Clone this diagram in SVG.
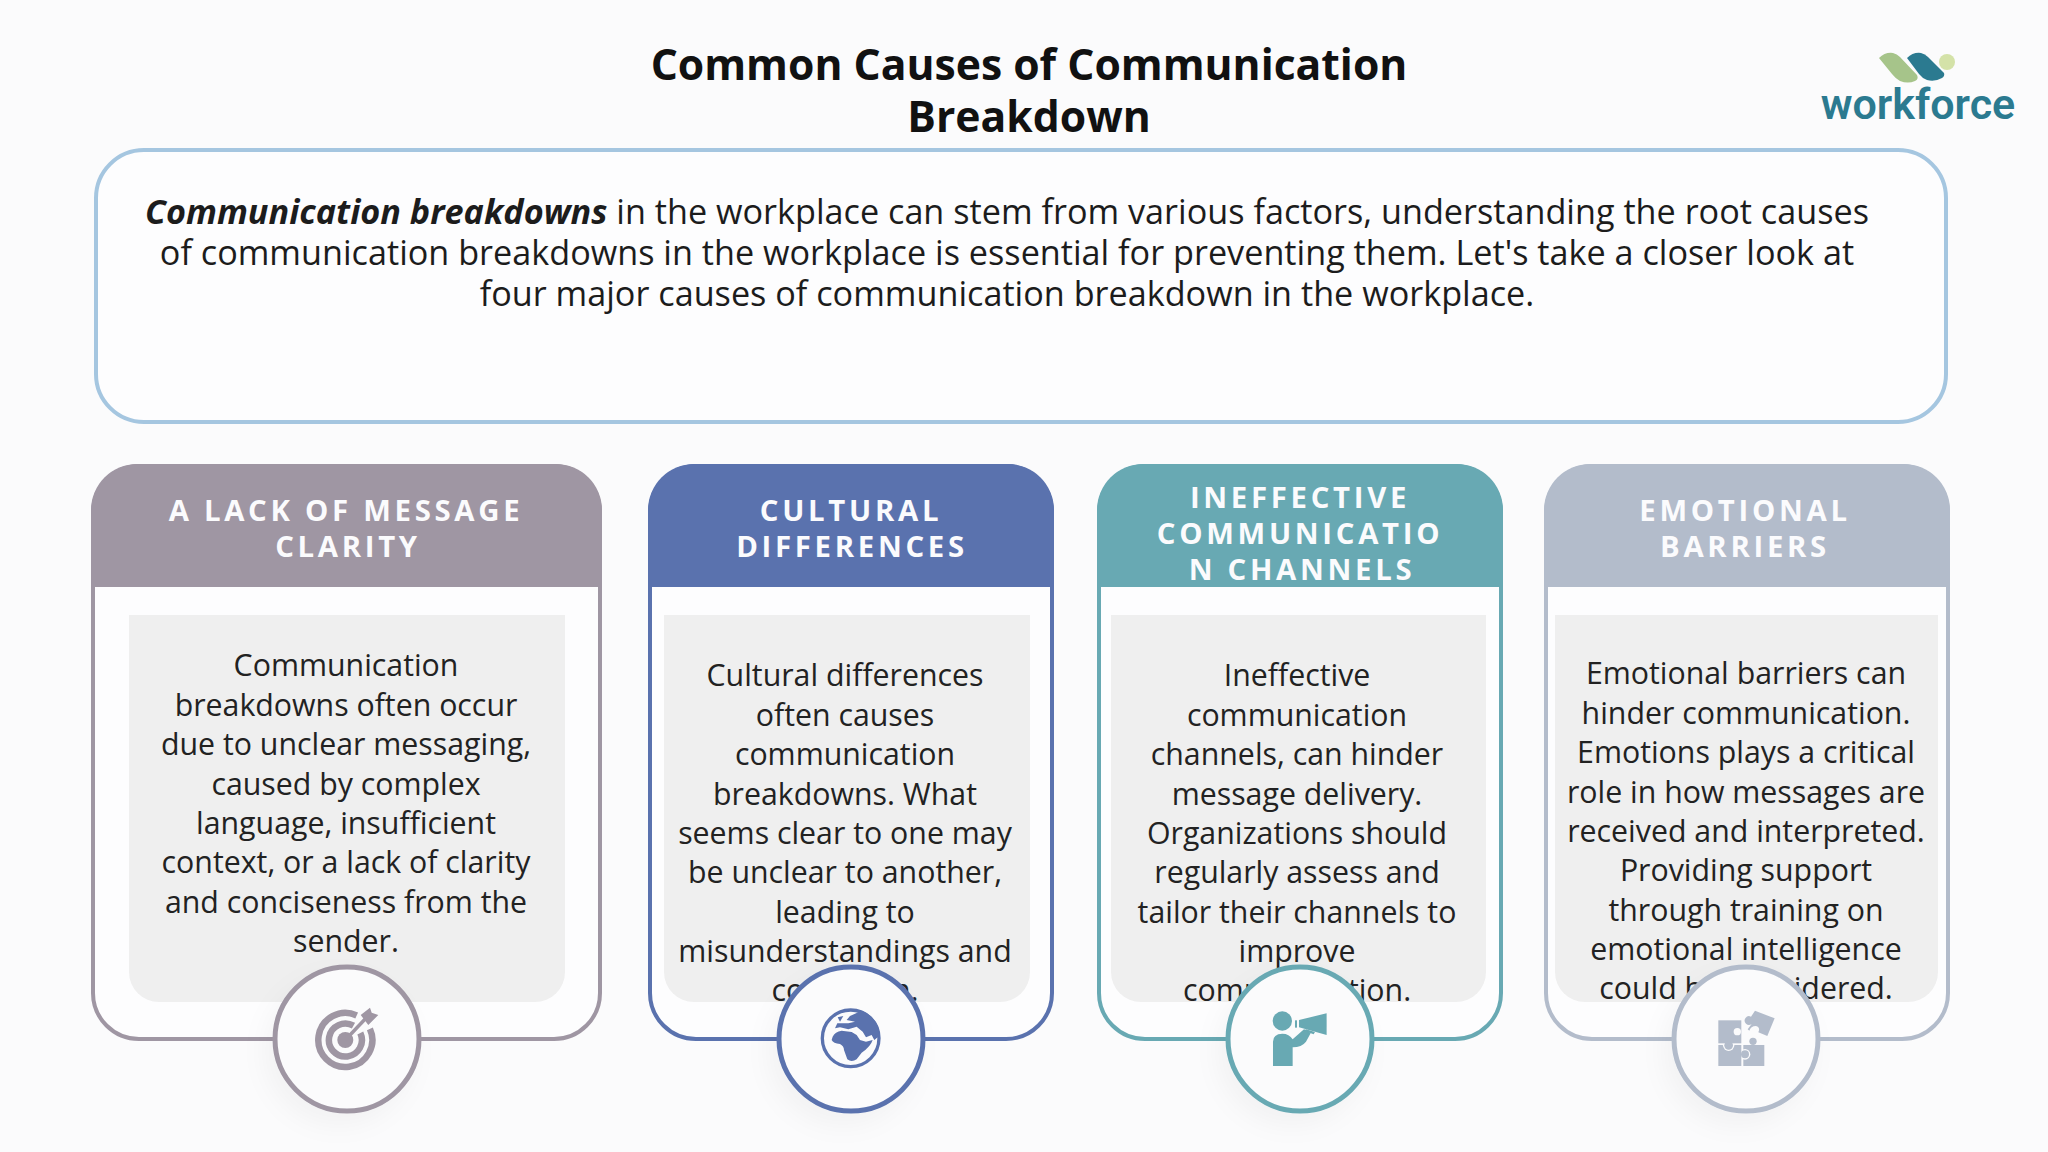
<svg xmlns="http://www.w3.org/2000/svg" width="2048" height="1152" viewBox="0 0 2048 1152">
<defs>
<filter id="sh" x="-30%" y="-30%" width="160%" height="170%"><feDropShadow dx="-8" dy="12" stdDeviation="12" flood-color="#000" flood-opacity="0.035"/></filter>
</defs>
<style>
text{font-family:"Open Sans","Noto Sans","DejaVu Sans",sans-serif;text-anchor:middle}
.title{font-size:42.67px;font-weight:700;fill:#111}
.intro{font-size:34.2px;fill:#1c1c1c}
.hd{font-size:29.33px;font-weight:700;fill:#fbfbfd;letter-spacing:3.7px}
.body{font-size:30.3px;fill:#222}
.panel{fill:#efefef}
.card{fill:#fdfdfe;stroke-width:4}
.disc{fill:#fbfbfc;stroke-width:5;filter:url(#sh)}
</style>
<rect width="2048" height="1152" fill="#fbfbfc"/>
<g id="title"><text class="title" x="1029" y="80">Common Causes of Communication</text><text class="title" x="1029" y="132">Breakdown</text></g>
<g id="logo">
<path d="M1879 58Q1885 52 1893 53Q1897 54 1900 57L1917 75Q1919 79 1915 81Q1908 84 1900 81Q1895 78 1892 74Z" fill="#a6c48a"/>
<path d="M1907 58Q1913 52 1921 53Q1925 54 1928 57L1944 73Q1945 76 1942 78Q1935 82 1927 80Q1922 78 1919 74Z" fill="#2b7a90"/>
<circle cx="1947" cy="62" r="8" fill="#d4e2a8"/>
<text x="1918" y="119" style="font-family:Roboto,sans-serif;font-size:43px;font-weight:600;fill:#2b7a90">workforce</text>
</g>
<g id="intro">
<rect x="96" y="150" width="1850" height="272" rx="48" fill="#fdfdfe" stroke="#a5c6e0" stroke-width="4"/>
<text class="intro" x="1007" y="224"><tspan font-weight="700" font-style="italic">Communication breakdowns</tspan> in the workplace can stem from various factors, understanding the root causes</text>
<text class="intro" x="1007" y="265">of communication breakdowns in the workplace is essential for preventing them. Let's take a closer look at</text>
<text class="intro" x="1007" y="306">four major causes of communication breakdown in the workplace.</text>
</g>

<g id="card-1">
<rect class="card" x="93" y="466" width="507" height="573" rx="46" stroke="#9f96a3"/>
<path d="M91 587V510a46 46 0 0 1 46-46H556a46 46 0 0 1 46 46V587Z" fill="#9f96a3"/>
<text class="hd" x="346" y="521">A LACK OF MESSAGE</text><text class="hd" x="348" y="557">CLARITY</text>
<path class="panel" d="M129 615H565V972a30 30 0 0 1-30 30H159a30 30 0 0 1-30-30Z"/>
<text class="body" x="346" y="676">Communication</text><text class="body" x="346" y="716">breakdowns often occur</text><text class="body" x="346" y="755">due to unclear messaging,</text><text class="body" x="346" y="795">caused by complex</text><text class="body" x="346" y="834">language, insufficient</text><text class="body" x="346" y="873">context, or a lack of clarity</text><text class="body" x="346" y="913">and conciseness from the</text><text class="body" x="346" y="952">sender.</text>
<circle class="disc" cx="347" cy="1039" r="72" stroke="#9f96a3"/>
<path d="M356.700 1015.500A27 27 0 1 0 369.900 1028.800M353.500 1025.700A16.500 16.500 0 1 0 360.300 1033" fill="none" stroke="#9f96a3" stroke-width="6.500"/>
<circle cx="345.300" cy="1040" r="8" fill="#9f96a3"/>
<path d="M345.300 1040L367 1017" stroke="#9f96a3" stroke-width="3.500"/>
<path d="M360.700 1015L370 1007.700L371.700 1012.700L378.300 1015L368.300 1025Z" fill="#9f96a3"/>
</g>

<g id="card-2">
<rect class="card" x="650" y="466" width="402" height="573" rx="46" stroke="#5a72ae"/>
<path d="M648 587V510a46 46 0 0 1 46-46H1008a46 46 0 0 1 46 46V587Z" fill="#5a72ae"/>
<text class="hd" x="851" y="521">CULTURAL</text><text class="hd" x="852" y="557">DIFFERENCES</text>
<path class="panel" d="M664 615H1030V972a30 30 0 0 1-30 30H694a30 30 0 0 1-30-30Z"/>
<text class="body" x="845" y="686">Cultural differences</text><text class="body" x="845" y="726">often causes</text><text class="body" x="845" y="765">communication</text><text class="body" x="845" y="805">breakdowns. What</text><text class="body" x="845" y="844">seems clear to one may</text><text class="body" x="845" y="883">be unclear to another,</text><text class="body" x="845" y="923">leading to</text><text class="body" x="845" y="962">misunderstandings and</text><text class="body" x="845" y="1001">confusion.</text>
<circle class="disc" cx="851" cy="1039" r="72" stroke="#5a72ae"/>
<g transform="translate(740 940) scale(.3333)" fill="#5a72ae">
<circle cx="332" cy="295" r="85" fill="none" stroke="#5a72ae" stroke-width="10"/>
<path d="M278 290Q285 275 305 272L335 276L350 285L360 300L378 305L398 300Q392 320 365 338L350 358Q335 368 322 358L312 330Q312 318 300 312Q280 310 275 300Z"/>
<path d="M330 228L365 212Q395 222 412 255Q420 275 415 290L403 300L395 285L378 292L368 275L350 260L325 268L300 262L285 265L292 250L325 250L345 245L320 240Z"/>
<path d="M293 232L310 228L300 245Z"/>
</g>
</g>

<g id="card-3">
<rect class="card" x="1099" y="466" width="402" height="573" rx="46" stroke="#68a9b3"/>
<path d="M1097 587V510a46 46 0 0 1 46-46H1457a46 46 0 0 1 46 46V587Z" fill="#68a9b3"/>
<text class="hd" x="1300" y="508">INEFFECTIVE</text><text class="hd" x="1300" y="544">COMMUNICATIO</text><text class="hd" x="1302" y="580">N CHANNELS</text>
<path class="panel" d="M1111 615H1486V972a30 30 0 0 1-30 30H1141a30 30 0 0 1-30-30Z"/>
<text class="body" x="1297" y="686">Ineffective</text><text class="body" x="1297" y="726">communication</text><text class="body" x="1297" y="765">channels, can hinder</text><text class="body" x="1297" y="805">message delivery.</text><text class="body" x="1297" y="844">Organizations should</text><text class="body" x="1297" y="883">regularly assess and</text><text class="body" x="1297" y="923">tailor their channels to</text><text class="body" x="1297" y="962">improve</text><text class="body" x="1297" y="1001">communication.</text>
<circle class="disc" cx="1300" cy="1039" r="72" stroke="#68a9b3"/>
<g transform="translate(1180 940) scale(.3333)" fill="#68a9b3">
<circle cx="307" cy="243" r="29"/>
<path d="M279 378V305Q279 282 307 281Q328 281 338 298L372 268Q385 270 392 280L378 305Q365 322 338 322V378Z"/>
<path d="M357 240L440 220V285L357 262Z"/>
<rect x="345" y="241" width="6" height="22"/>
<path d="M378 268L405 276L401 283L374 273Z"/>
</g>
</g>

<g id="card-4">
<rect class="card" x="1546" y="466" width="402" height="573" rx="46" stroke="#b3bccb"/>
<path d="M1544 587V510a46 46 0 0 1 46-46H1904a46 46 0 0 1 46 46V587Z" fill="#b3bccb"/>
<text class="hd" x="1745" y="521">EMOTIONAL</text><text class="hd" x="1745" y="557">BARRIERS</text>
<path class="panel" d="M1555 615H1938V972a30 30 0 0 1-30 30H1585a30 30 0 0 1-30-30Z"/>
<text class="body" x="1746" y="684">Emotional barriers can</text><text class="body" x="1746" y="724">hinder communication.</text><text class="body" x="1746" y="763">Emotions plays a critical</text><text class="body" x="1746" y="803">role in how messages are</text><text class="body" x="1746" y="842">received and interpreted.</text><text class="body" x="1746" y="881">Providing support</text><text class="body" x="1746" y="921">through training on</text><text class="body" x="1746" y="960">emotional intelligence</text><text class="body" x="1746" y="999">could be considered.</text>
<circle class="disc" cx="1746" cy="1039" r="72" stroke="#b3bccb"/>
<g transform="translate(1630 940) scale(.3333)" fill="#b3bccb">
<rect x="340" y="315" width="63" height="63"/><circle cx="369" cy="304" r="11"/>
<circle cx="345" cy="343" r="16" fill="#fbfbfc"/>
<rect x="265" y="315" width="69" height="63"/><circle cx="345" cy="343" r="12"/>
<circle cx="296" cy="316" r="17" fill="#fbfbfc"/>
<rect x="265" y="241" width="69" height="69"/><circle cx="296" cy="316" r="13"/>
<circle cx="322" cy="275" r="11" fill="#fbfbfc"/>
<path d="M375 212L434 235L412 288L385 277Q392 262 378 258Q362 258 358 272L353 268L365 252A13 13 0 1 1 363 230Z"/>
</g>
</g>
</svg>
